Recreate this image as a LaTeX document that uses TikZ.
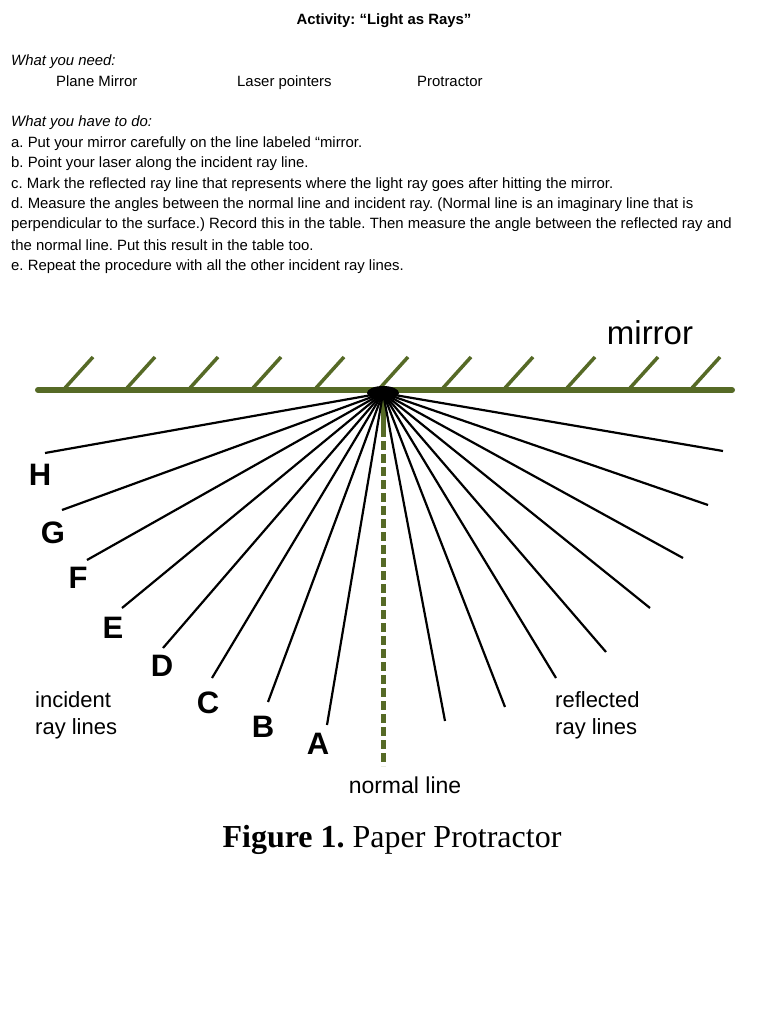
\documentclass[tikz,border=0pt]{standalone}
\usepackage{fontspec}
\setmainfont{Liberation Sans}
\newfontfamily\serifb{Liberation Serif}
\definecolor{mgreen}{HTML}{566A26}
\frenchspacing
\begin{document}
\begin{tikzpicture}[x=1pt,y=-1pt,
  txt/.style={anchor=base west,inner sep=0,font=\fontsize{14.9}{17}\selectfont},
  lab/.style={inner sep=0,font=\fontsize{31}{31}\selectfont\bfseries},
  raycap/.style={inner sep=0,font=\fontsize{22}{27}\selectfont,align=left},
  ray/.style={line width=2.2pt,black}]
\useasboundingbox (0,0) rectangle (768,1024);
\node[txt,anchor=base] (t) at (384,25) {\bfseries Activity: “Light as Rays”};
\node[txt] (n1) at (11,66) {\itshape What you need:};
\node[txt] (n2) at (56,87) {Plane Mirror};
\node[txt] (n3) at (237,87) {Laser pointers};
\node[txt] (n4) at (417,87) {Protractor};
\node[txt] (h1) at (11,127) {\itshape What you have to do:};
\node[txt] (s1) at (11,148) {a. Put your mirror carefully on the line labeled “mirror.};
\node[txt] (s2) at (11,168) {b. Point your laser along the incident ray line.};
\node[txt] (s3) at (11,189) {c. Mark the reflected ray line that represents where the light ray goes after hitting the mirror.};
\node[txt] (s4) at (11,209) {d. Measure the angles between the normal line and incident ray. (Normal line is an imaginary line that is};
\node[txt] (s5) at (11,229) {perpendicular to the surface.) Record this in the table. Then measure the angle between the reflected ray and};
\node[txt] (s6) at (11,250) {the normal line. Put this result in the table too.};
\node[txt] (s7) at (11,270) {e. Repeat the procedure with all the other incident ray lines.};
% mirror
\coordinate (O) at (383,393);
\draw[mgreen,line width=6pt,line cap=round] (38,390) -- (732,390);
\foreach \x in {65,127,190,253,316,380,443,505,567,630,692}
  \draw[mgreen,line width=3.5pt] (\x,388) -- (\x+28,357);
\node[inner sep=0,font=\fontsize{33}{33}\selectfont] (mir) at (650,333) {mirror};
% normal line
\coordinate (N2) at (383,766);
\draw[mgreen,line width=5pt] (383,395) -- (383,428);
\draw[mgreen,line width=5pt,dash pattern=on 9pt off 4pt] (383,428) -- (N2);
% rays
\foreach \n/\x/\y in {h/45/453,g/62/510,f/87/560,e/122/608,d/163/648,c/212/678,b/268/702,a/327/725,
  r1/723/451,r2/708/505,r3/683/558,r4/650/608,r5/606/652,r6/556/678,r7/505/707,r8/445/721}
  { \coordinate (\n) at (\x,\y); \draw[ray] (O) -- (\n); }
\fill (O) ellipse (16 and 7);
\node[lab] (H) at (40,475) {H};
\node[lab] (G) at (53,533) {G};
\node[lab] (F) at (78,578) {F};
\node[lab] (E) at (113,628) {E};
\node[lab] (D) at (162,666) {D};
\node[lab] (C) at (208,703) {C};
\node[lab] (B) at (263,727) {B};
\node[lab] (A) at (318,744) {A};
\node[raycap,anchor=west] (inc) at (35,715) {incident\\ray lines};
\node[raycap,anchor=west] (refl) at (555,715) {reflected\\ray lines};
\node[inner sep=0,font=\fontsize{23}{23}\selectfont] (nl) at (405,785) {normal line};
\node[inner sep=0,font=\serifb\fontsize{32}{32}\selectfont] (fig) at (392,840) {\textbf{Figure 1.} Paper Protractor};
\end{tikzpicture}
\end{document}
